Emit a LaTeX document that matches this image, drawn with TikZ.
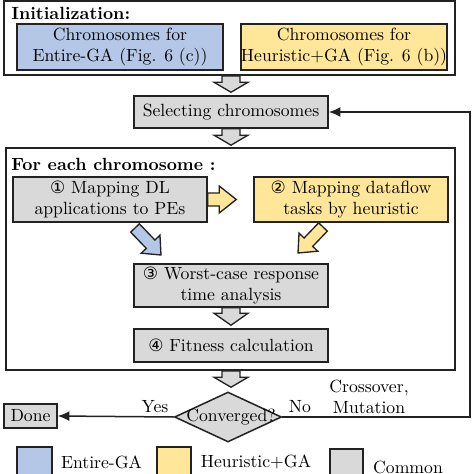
\documentclass[tikz,border=0pt]{standalone}
\usepackage{fontspec}
\newfontfamily\dvs{DejaVu Sans}
\usetikzlibrary{calc,shapes.geometric,arrows.meta}
\definecolor{cblue}{HTML}{B4C7E7}
\definecolor{cyel}{HTML}{FFE699}
\definecolor{cgray}{HTML}{D9D9D9}
\definecolor{cline}{HTML}{222222}
\newcommand\mysize{\fontsize{10.6}{12.3}\selectfont}
\newcommand\circnum[1]{{\dvs\fontsize{10.2}{12}\selectfont #1}}
% block arrow: fill, shaft half width, head half width, head length (all px), start, end
\newcommand\barrow[6]{%
  \path #5 coordinate (ba-a) #6 coordinate (ba-b);
  \coordinate (ba-h) at ($(ba-b)!#4*0.6pt!(ba-a)$);
  \filldraw[fill=#1, blockline]
    ($(ba-a)!#2*0.6pt!90:(ba-b)$) -- ($(ba-h)!#2*0.6pt!-90:(ba-a)$) --
    ($(ba-h)!#3*0.6pt!-90:(ba-a)$) -- (ba-b) --
    ($(ba-h)!#3*0.6pt!90:(ba-a)$) -- ($(ba-h)!#2*0.6pt!90:(ba-a)$) --
    ($(ba-a)!#2*0.6pt!-90:(ba-b)$) -- cycle;
}
\begin{document}
\begin{tikzpicture}[x=0.6pt,y=-0.6pt,
  font=\mysize,
  wh/.style 2 args={minimum width=#1*0.6pt, minimum height=#2*0.6pt},
  box/.style={draw=cline, line width=0.9pt, inner sep=0pt, align=center},
  frame/.style={draw=cline, line width=1pt, inner sep=0pt},
  blockline/.style={draw=cline, line width=0.8pt, line join=miter},
  conn/.style={draw=cline, line width=0.9pt, -{Latex[length=7pt,width=6pt]}},
  lbl/.style={inner sep=0pt, align=center},
  head/.style={inner sep=0pt, anchor=west, font=\mysize\bfseries}]
\clip (0,0) rectangle (474,474);
\fill[white] (0,0) rectangle (474,474);

% Initialization
\node[frame, wh={451}{74}] (init) at (229.5,38) {};
\node[head] (initlbl) at (11,13) {Initialization:};
\node[box, fill=cblue, wh={206}{46}] (cent) at (120,47) {Chromosomes for\\Entire-GA (Fig. 6 (c))};
\node[box, fill=cyel, wh={206}{46}] (cheu) at (344,47) {Chromosomes for\\Heuristic+GA (Fig. 6 (b))};

% Selecting
\node[box, fill=cgray, wh={194}{32}] (sel) at (231,112) {Selecting chromosomes};

% For each chromosome
\node[frame, wh={449}{222}] (fe) at (230.5,259) {};
\node[head] (felbl) at (11,164) {For each chromosome :};
\node[box, fill=cgray, wh={194}{45}] (b1) at (110,199.5) {\circnum{①} Mapping DL\\applications to PEs};
\node[box, fill=cyel, wh={194}{45}] (b2) at (351,199.5) {\circnum{②} Mapping dataflow\\tasks by heuristic};
\node[box, fill=cgray, wh={194}{43}] (b3) at (231,285.5) {\circnum{③} Worst-case response\\time analysis};
\node[box, fill=cgray, wh={194}{33}] (b4) at (231,345.5) {\circnum{④} Fitness calculation};

% Decision
\node[diamond, draw=cline, line width=0.9pt, fill=cgray, inner sep=0pt, wh={107}{50}] (dia) at (228,417) {};
\node[lbl] (convtxt) at (231,417) {Converged?};
\node[box, fill=cgray, wh={53}{24}] (done) at (30.5,416) {Done};
\node[lbl] (yes) at (155,407) {Yes};
\node[lbl] (no) at (300,407) {No};
\node[lbl] (cm) at (369,397) {Crossover,\\Mutation};

% Block arrows
\barrow{cgray}{9}{17}{10}{(sel.north |- init.south)}{($(sel.north)+(0,-3)$)}
\barrow{cgray}{9}{17}{10}{(sel.south)}{($(sel.south |- fe.north)+(0,-2)$)}
\barrow{cyel}{6.5}{13.5}{17}{(b1.east)}{($(b2.west)+(-17,0)$)}
\coordinate (bdA) at (135,228);
\coordinate (bdB) at (161,255);
\barrow{cblue}{6}{13}{15}{(bdA)}{(bdB)}
\coordinate (ydA) at (323,227);
\coordinate (ydB) at (298,253);
\barrow{cyel}{6}{13}{15}{(ydA)}{(ydB)}
\barrow{cgray}{9}{17}{12}{(b3.south)}{($(b4.north)+(0,-3)$)}
\barrow{cgray}{9}{17}{10}{(b4.south |- fe.south)}{($(b4.south |- dia.north)+(0,-4)$)}

% Connectors
\coordinate (fbc) at (470,417);
\draw[conn] (dia.east) -- (fbc) |- (sel.east);
\draw[conn] (dia.west) -- (done.east);

% Legend
\node[box, fill=cblue, wh={35}{35}] (lgb) at (34.5,464.5) {};
\node[lbl] (lgbt) at (101.5,462) {Entire-GA};
\node[box, fill=cyel, wh={34}{35}] (lgy) at (174,464.5) {};
\node[lbl] (lgyt) at (256,462) {Heuristic+GA};
\node[box, fill=cgray, wh={33}{35}] (lgg) at (346.5,466.5) {};
\node[lbl] (lggt) at (408,467) {Common};
\end{tikzpicture}
\end{document}
